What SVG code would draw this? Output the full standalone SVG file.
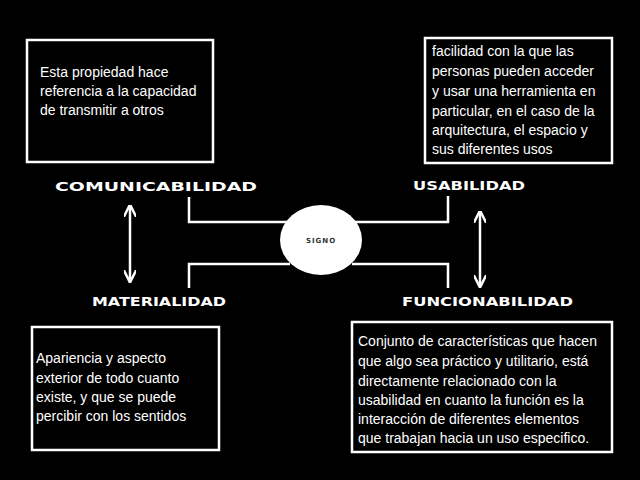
<svg xmlns="http://www.w3.org/2000/svg" width="640" height="480" viewBox="0 0 640 480">
<style>
.box{fill:#000;stroke:#fff;stroke-width:2.5}
.t{font-family:"Liberation Sans",Arial,sans-serif;font-size:14px;fill:#fff}
.lab{font-family:"DejaVu Sans",sans-serif;font-size:13px;font-weight:bold;fill:#fff}
.ln{fill:none;stroke:#fff;stroke-width:2.5}
</style>
<defs><marker id="ah" viewBox="0 0 10 10" refX="8" refY="5" markerWidth="5" markerHeight="5" orient="auto-start-reverse"><path d="M0,0 L10,5 L0,10" fill="none" stroke="#fff" stroke-width="2"/></marker></defs>
<rect width="640" height="480" fill="#000"/>
<g id="connectors">
<path class="ln" d="M189,197 V222 H290 M352,222 H448 V196"/>
<path class="ln" d="M189,288 V264 H290 M352,264 H448 V288"/>
<line class="ln" x1="130" y1="207" x2="130" y2="280" marker-start="url(#ah)" marker-end="url(#ah)"/>
<line class="ln" x1="480" y1="213" x2="480" y2="285" marker-start="url(#ah)" marker-end="url(#ah)"/>
</g>
<g id="signo"><ellipse cx="321" cy="240" rx="41" ry="35" fill="#fff"/><text x="321" y="243" font-family="DejaVu Sans,sans-serif" font-size="7" font-weight="bold" fill="#333" text-anchor="middle" letter-spacing="1">SIGNO</text></g>
<g id="comunicabilidad"><rect class="box" x="27" y="40" width="186" height="122"/>
<text class="t" x="40" y="77">Esta propiedad  hace</text><text class="t" x="40" y="96">referencia a la capacidad</text><text class="t" x="40" y="115">de transmitir  a otros</text>
<text class="lab" x="55" y="191" textLength="202" lengthAdjust="spacingAndGlyphs">COMUNICABILIDAD</text></g>
<g id="usabilidad"><rect class="box" x="425" y="38" width="187" height="125"/>
<text class="t" x="432" y="56">facilidad con la que las</text><text class="t" x="432" y="76">personas pueden acceder</text><text class="t" x="432" y="96">y usar una herramienta en</text><text class="t" x="432" y="116">particular, en el caso de la</text><text class="t" x="432" y="135">arquitectura, el espacio y</text><text class="t" x="432" y="154">sus diferentes usos</text>
<text class="lab" x="413" y="190" textLength="112" lengthAdjust="spacingAndGlyphs">USABILIDAD</text></g>
<g id="materialidad"><rect class="box" x="32" y="327" width="187" height="123"/>
<text class="t" x="36" y="363">Apariencia y aspecto</text><text class="t" x="36" y="383">exterior de todo cuanto</text><text class="t" x="36" y="402">existe, y que se puede</text><text class="t" x="36" y="421">percibir con los sentidos</text>
<text class="lab" x="92" y="306" textLength="134" lengthAdjust="spacingAndGlyphs">MATERIALIDAD</text></g>
<g id="funcionabilidad"><rect class="box" x="352" y="322" width="260" height="130"/>
<text class="t" x="358" y="346">Conjunto de características que hacen</text><text class="t" x="358" y="366">que algo sea práctico y utilitario, está</text><text class="t" x="358" y="386">directamente relacionado con la</text><text class="t" x="358" y="405">usabilidad en cuanto la función es la</text><text class="t" x="358" y="424">interacción de diferentes elementos</text><text class="t" x="358" y="443">que  trabajan hacia un uso especifico.</text>
<text class="lab" x="402" y="306" textLength="171" lengthAdjust="spacingAndGlyphs">FUNCIONABILIDAD</text></g>
</svg>
